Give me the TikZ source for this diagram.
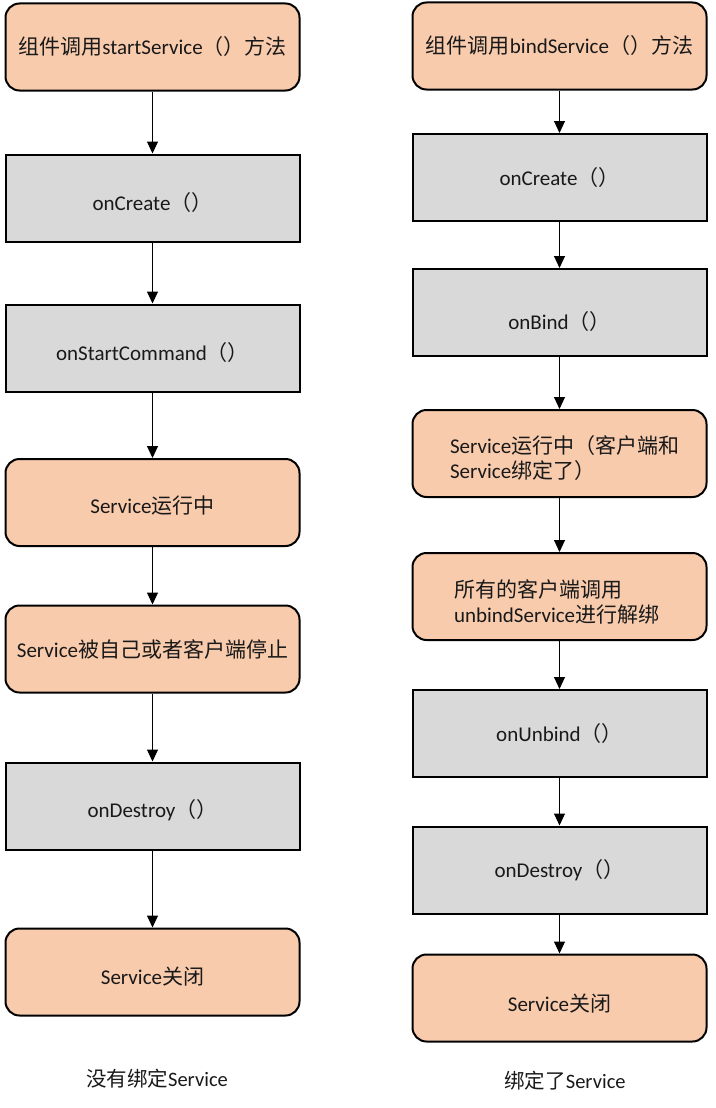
\documentclass[tikz,border=0pt]{standalone}
\usepackage{fontspec}
\setmainfont{Carlito}
\newfontfamily\cjk{Noto Sans CJK SC}
\newcommand{\zh}[1]{{\cjk #1}}
\newcommand{\dn}[2]{\raisebox{-#1}[\height][\depth]{#2}}
\usetikzlibrary{arrows.meta}
\definecolor{boxorange}{HTML}{F8CBAD}
\definecolor{boxgray}{HTML}{D9D9D9}
\begin{document}
\begin{tikzpicture}[x=1pt,y=-1pt,
  base/.style={draw=black, line width=2pt, minimum width=294pt, minimum height=87pt,
    inner sep=2pt, font=\fontsize{21}{25}\selectfont, text=black!90},
  procbox/.style={base, fill=boxgray},
  roundbox/.style={base, fill=boxorange, rounded corners=14pt},
  arr/.style={draw=black, line width=1pt, -{Triangle[length=12pt,width=11pt]}},
  caption/.style={font=\fontsize{20.5}{24}\selectfont, text=black!90}]
\useasboundingbox (0,0) rectangle (715,1108);
\fill[white] (0,0) rectangle (715,1108);
% left column
\node[roundbox] (L1) at (152.5,47) {\zh{组件调用}startService\zh{（）方法}};
\node[procbox]  (L2) at (152.5,198) {\dn{5pt}{onCreate\zh{（）}}};
\node[procbox]  (L3) at (152.5,348) {\dn{5pt}{onStartCommand\zh{（）}}};
\node[roundbox] (L4) at (152.5,502.5) {\dn{3pt}{Service\zh{运行中}}};
\node[roundbox] (L5) at (152.5,649) {Service\zh{被自己或者客户端停止}};
\node[procbox]  (L6) at (152.5,806) {\dn{4pt}{onDestroy\zh{（）}}};
\node[roundbox] (L7) at (152.5,972) {\dn{5pt}{Service\zh{关闭}}};
\node[caption]  (LC) at (157,1079) {\zh{没有绑定}Service};
% right column
\node[roundbox] (R1) at (559.5,46) {\zh{组件调用}bindService\zh{（）方法}};
\node[procbox]  (R2) at (559.5,177.5) {onCreate\zh{（）}};
\node[procbox]  (R3) at (559.5,312.5) {\dn{9pt}{onBind\zh{（）}}};
\node[roundbox] (R4) at (559.5,453.5) {\dn{5pt}{\parbox{260pt}{\fontsize{21}{25}\selectfont\raggedright
   \hspace*{20.5pt}\mbox{Service\zh{运行中（客户端和}}\\\hspace*{20.5pt}\mbox{Service\zh{绑定了）}}}}};
\node[roundbox] (R5) at (559.5,596.5) {\dn{5.5pt}{\parbox{260pt}{\fontsize{21}{25}\selectfont\raggedright
   \hspace*{24.5pt}\mbox{\zh{所有的客户端调用}}\\\hspace*{24.5pt}\mbox{unbindService\zh{进行解绑}}}}};
\node[procbox]  (R6) at (559.5,733.5) {onUnbind\zh{（）}};
\node[procbox]  (R7) at (559.5,870) {onDestroy\zh{（）}};
\node[roundbox] (R8) at (559.5,998) {\dn{6pt}{Service\zh{关闭}}};
\node[caption]  (RC) at (565,1081) {\zh{绑定了}Service};
% connectors
\draw[arr] (L1) -- (L2);
\draw[arr] (L2) -- (L3);
\draw[arr] (L3) -- (L4);
\draw[arr] (L4) -- (L5);
\draw[arr] (L5) -- (L6);
\draw[arr] (L6) -- (L7);
\draw[arr] (R1) -- (R2);
\draw[arr] (R2) -- (R3);
\draw[arr] (R3) -- (R4);
\draw[arr] (R4) -- (R5);
\draw[arr] (R5) -- (R6);
\draw[arr] (R6) -- (R7);
\draw[arr] (R7) -- (R8);
\end{tikzpicture}
\end{document}
